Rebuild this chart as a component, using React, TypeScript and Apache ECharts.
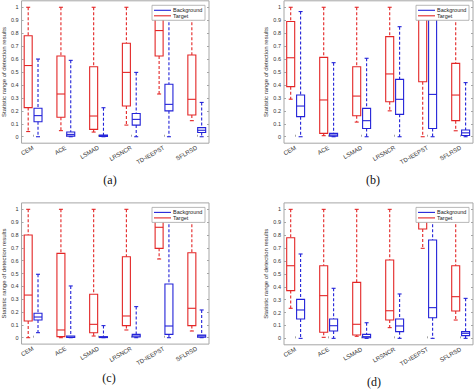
import React, { useEffect, useRef } from "react";
import * as echarts from "echarts";

// Detection methods compared in every panel
const methods = ["CEM", "ACE", "LSMAD", "LRSNCR", "TD-IEEPST", "SFLRSD"];
const yTicks = [0, 0.1, 0.2, 0.3, 0.4, 0.5, 0.6, 0.7, 0.8, 0.9, 1];
const panelLabels = ["(a)", "(b)", "(c)", "(d)"];

// Box statistics per method: [min, q1, median, q3, max]
const targetA = [
  [0.04, 0.225, 0.55, 0.78, 1.0],
  [0.047, 0.15, 0.33, 0.624, 1.0],
  [0.036, 0.057, 0.16, 0.54, 1.0],
  [0.09, 0.237, 0.497, 0.722, 1.0],
  [0.33, 0.624, 0.82, 0.98, 1.0],
  [0.124, 0.168, 0.289, 0.631, 1.0],
];
const backgroundA = [
  [0, 0.116, 0.163, 0.22, 0.6],
  [0, 0.005, 0.018, 0.036, 0.59],
  [0, 0.003, 0.008, 0.013, 0.224],
  [0, 0.09, 0.134, 0.18, 0.497],
  [0, 0.2, 0.25, 0.405, 1.0],
  [0, 0.033, 0.05, 0.07, 0.265],
];
const targetB = [
  [0.29, 0.387, 0.61, 0.89, 1.0],
  [0.008, 0.026, 0.284, 0.613, 1.0],
  [0.113, 0.162, 0.314, 0.541, 1.0],
  [0.2, 0.27, 0.485, 0.773, 1.0],
  [0, 0.425, 0.97, 1.0, 1.0],
  [0.046, 0.124, 0.322, 0.567, 1.0],
];
const backgroundB = [
  [0, 0.155, 0.237, 0.322, 0.967],
  [0, 0.005, 0.013, 0.026, 0.572],
  [0, 0.064, 0.124, 0.219, 0.606],
  [0, 0.173, 0.289, 0.443, 0.85],
  [0, 0.064, 0.327, 0.98, 1.0],
  [0, 0.01, 0.03, 0.052, 0.418],
];
const targetC = [
  [0, 0.13, 0.332, 0.8, 1.0],
  [0, 0.008, 0.06, 0.657, 1.0],
  [0.013, 0.039, 0.104, 0.338, 1.0],
  [0.06, 0.094, 0.169, 0.631, 1.0],
  [0.613, 0.696, 0.86, 0.98, 1.0],
  [0.052, 0.094, 0.229, 0.662, 1.0],
];
const backgroundC = [
  [0.039, 0.138, 0.161, 0.19, 0.494],
  [0, 0.002, 0.005, 0.013, 0.403],
  [0, 0.001, 0.003, 0.008, 0.094],
  [0, 0.005, 0.013, 0.026, 0.242],
  [0, 0.026, 0.091, 0.418, 1.0],
  [0, 0.003, 0.013, 0.02, 0.216],
];
const targetD = [
  [0.233, 0.37, 0.563, 0.78, 1.0],
  [0.008, 0.047, 0.331, 0.563, 1.0],
  [0.016, 0.026, 0.109, 0.434, 1.0],
  [0.083, 0.142, 0.214, 0.607, 1.0],
  [0.698, 0.848, 0.96, 1.0, 1.0],
  [0.142, 0.212, 0.323, 0.563, 1.0],
];
const backgroundD = [
  [0, 0.15, 0.22, 0.302, 0.654],
  [0, 0.057, 0.098, 0.15, 0.388],
  [0, 0.005, 0.013, 0.031, 0.121],
  [0, 0.052, 0.096, 0.15, 0.344],
  [0, 0.16, 0.238, 0.762, 1.0],
  [0, 0.021, 0.039, 0.052, 0.31],
];

const RED = "#e32626";
const BLUE = "#2323d8";
const FRAME = "#a6a6a6";
const SANS = "Liberation Sans, Arial, sans-serif";
const SERIF = "Liberation Serif, Times New Roman, serif";

// Panel layout (pixels)
const layout = [
  { left: 20, top: 0.8, height: 142.4, lx: 110, ly: 180 },
  { left: 284, top: 0.8, height: 142.4, lx: 373, ly: 180 },
  { left: 20, top: 202.9, height: 141.2, lx: 109, ly: 378 },
  { left: 284, top: 202.9, height: 141.9, lx: 374, ly: 382 },
];
const PANEL_W = 189;
const GROUP_OFFSET = 0.15;

const panelStats = [
  [targetA, backgroundA],
  [targetB, backgroundB],
  [targetC, backgroundC],
  [targetD, backgroundD],
];

function boxRenderer(color: string) {
  return (params: any, api: any) => {
    const x = api.value(0);
    const pMin = api.coord([x, api.value(1)]);
    const pQ1 = api.coord([x, api.value(2)]);
    const pMed = api.coord([x, api.value(3)]);
    const pQ3 = api.coord([x, api.value(4)]);
    const pMax = api.coord([x, api.value(5)]);
    const cx = pMin[0];
    const half = 4;
    const cap = 2;
    const solid = { stroke: color, lineWidth: 1.1, fill: null };
    const dashed = { stroke: color, lineWidth: 1.1, lineDash: [3, 2] };
    return {
      type: "group",
      children: [
        { type: "line", shape: { x1: cx, y1: pMax[1], x2: cx, y2: pQ3[1] }, style: dashed },
        { type: "line", shape: { x1: cx, y1: pQ1[1], x2: cx, y2: pMin[1] }, style: dashed },
        { type: "line", shape: { x1: cx - cap, y1: pMax[1], x2: cx + cap, y2: pMax[1] }, style: solid },
        { type: "line", shape: { x1: cx - cap, y1: pMin[1], x2: cx + cap, y2: pMin[1] }, style: solid },
        {
          type: "rect",
          shape: { x: cx - half, y: pQ3[1], width: half * 2, height: Math.max(pQ1[1] - pQ3[1], 0.5) },
          style: { stroke: color, lineWidth: 1.1, fill: "rgba(0,0,0,0)" },
        },
        { type: "line", shape: { x1: cx - half, y1: pMed[1], x2: cx + half, y2: pMed[1] }, style: solid },
      ],
    };
  };
}

function legendGraphic(g: { left: number; top: number }) {
  const right = g.left + PANEL_W - 4;
  const w = 53;
  const h = 15;
  const x0 = right - w;
  const y0 = g.top + 4.5;
  return {
    type: "group",
    z: 100,
    children: [
      {
        type: "rect",
        shape: { x: x0, y: y0, width: w, height: h },
        style: { fill: "#ffffff", stroke: FRAME, lineWidth: 0.8 },
        z: 100,
      },
      { type: "line", shape: { x1: x0 + 2, y1: y0 + 5, x2: x0 + 19, y2: y0 + 5 }, style: { stroke: BLUE, lineWidth: 1.1 }, z: 101 },
      { type: "line", shape: { x1: x0 + 2, y1: y0 + 10.5, x2: x0 + 19, y2: y0 + 10.5 }, style: { stroke: RED, lineWidth: 1.1 }, z: 101 },
      {
        type: "text",
        x: x0 + 21,
        y: y0 + 5,
        style: { text: "Background", fontSize: 5.5, fontFamily: SANS, fill: "#222", verticalAlign: "middle" },
        z: 101,
      },
      {
        type: "text",
        x: x0 + 21,
        y: y0 + 10.5,
        style: { text: "Target", fontSize: 5.5, fontFamily: SANS, fill: "#222", verticalAlign: "middle" },
        z: 101,
      },
    ],
  };
}

export default function App() {
  const ref = useRef<HTMLDivElement>(null);

  useEffect(() => {
    document.body.style.margin = "0";
    if (!ref.current) return;
    const chart = echarts.init(ref.current, null, { renderer: "svg" });

    const grid: any[] = [];
    const xAxis: any[] = [];
    const yAxis: any[] = [];
    const series: any[] = [];
    const graphic: any[] = [];

    layout.forEach((g, k) => {
      grid.push({
        left: g.left,
        top: g.top,
        width: PANEL_W,
        height: g.height,
        show: true,
        borderColor: FRAME,
        borderWidth: 1,
        backgroundColor: "#ffffff",
      });
      xAxis.push({
        type: "value",
        gridIndex: k,
        min: 0.647,
        max: 6.374,
        axisLine: { show: false },
        splitLine: { show: false },
        axisTick: {
          show: true,
          inside: true,
          length: 2,
          customValues: methods.map((_, i) => i + 1),
          lineStyle: { color: FRAME },
        },
        axisLabel: {
          show: true,
          customValues: methods.map((_, i) => i + 1),
          formatter: (v: number) => methods[Math.round(v) - 1] ?? "",
          rotate: 30,
          fontSize: 6,
          fontFamily: SANS,
          color: "#333",
          margin: 4,
        },
      });
      const tickCommon = {
        show: true,
        inside: true,
        length: 2,
        customValues: yTicks,
        lineStyle: { color: FRAME },
      };
      yAxis.push({
        type: "value",
        gridIndex: k,
        min: -0.05,
        max: 1.05,
        position: "left",
        name: "Statistic range of detection results",
        nameLocation: "middle",
        nameGap: 14,
        nameRotate: 90,
        nameTextStyle: { fontSize: 6, fontFamily: SANS, color: "#333" },
        axisLine: { show: false },
        splitLine: { show: false },
        axisTick: tickCommon,
        axisLabel: {
          show: true,
          customValues: yTicks,
          formatter: (v: number) => String(Math.round(v * 10) / 10),
          fontSize: 5.5,
          fontFamily: SANS,
          color: "#333",
          margin: 3,
        },
      });
      yAxis.push({
        type: "value",
        gridIndex: k,
        min: -0.05,
        max: 1.05,
        position: "right",
        axisLine: { show: false },
        splitLine: { show: false },
        axisTick: tickCommon,
        axisLabel: { show: false },
      });

      const [target, background] = panelStats[k];
      series.push({
        type: "custom",
        name: "Target",
        xAxisIndex: k,
        yAxisIndex: 2 * k,
        renderItem: boxRenderer(RED),
        encode: { x: 0, y: [1, 2, 3, 4, 5] },
        data: target.map((s, i) => [i + 1 - GROUP_OFFSET, ...s]),
        z: 3,
      });
      series.push({
        type: "custom",
        name: "Background",
        xAxisIndex: k,
        yAxisIndex: 2 * k,
        renderItem: boxRenderer(BLUE),
        encode: { x: 0, y: [1, 2, 3, 4, 5] },
        data: background.map((s, i) => [i + 1 + GROUP_OFFSET, ...s]),
        z: 3,
      });

      graphic.push(legendGraphic(g));
      graphic.push({
        type: "text",
        x: g.lx,
        y: g.ly,
        style: {
          text: panelLabels[k],
          fontSize: 12,
          fontFamily: SERIF,
          fill: "#111",
          align: "center",
          verticalAlign: "middle",
        },
      });
    });

    chart.setOption({
      animation: false,
      backgroundColor: "#ffffff",
      grid,
      xAxis,
      yAxis,
      series,
      graphic,
    });

    return () => chart.dispose();
  }, []);

  return <div ref={ref} style={{ width: 474, height: 389 }} />;
}
